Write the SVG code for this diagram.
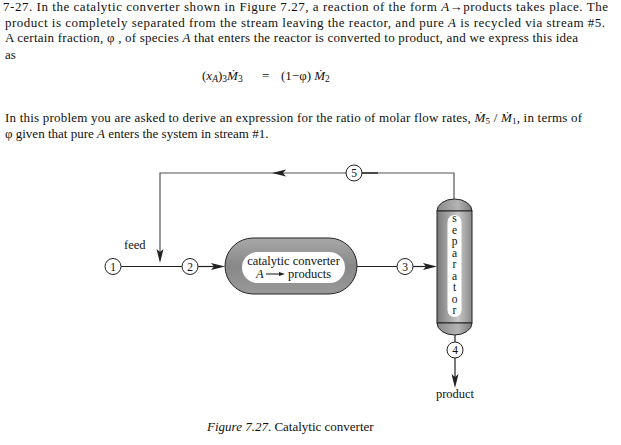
<svg xmlns="http://www.w3.org/2000/svg" width="621" height="445" viewBox="0 0 621 445">
<style>
text{font-family:"Liberation Serif","Times New Roman",serif;fill:#111;}
.p{font-size:13px;}
.i{font-style:italic;}
.ln{stroke:#222;stroke-width:1.2;fill:none;}
.lg{stroke:#555;stroke-width:1.2;fill:none;}
.c{fill:#fff;stroke:#222;stroke-width:1;}
.cn{font-size:11.5px;text-anchor:middle;}
.lbl{font-size:12.5px;}
.ah{fill:#222;}
.vert{writing-mode:vertical-rl;text-orientation:upright;font-size:11.5px;}
</style>
<defs>
<linearGradient id="gR" x1="0" y1="0" x2="0" y2="1">
<stop offset="0" stop-color="#a8a8a8"/><stop offset="0.5" stop-color="#888"/><stop offset="1" stop-color="#999"/>
</linearGradient>
<linearGradient id="gS" x1="0" y1="0" x2="1" y2="0">
<stop offset="0" stop-color="#7a7a7a"/><stop offset="0.6" stop-color="#c8c8c8"/><stop offset="1" stop-color="#8a8a8a"/>
</linearGradient>
<linearGradient id="gD" x1="0" y1="0" x2="1" y2="0">
<stop offset="0" stop-color="#8a8a8a"/><stop offset="0.6" stop-color="#b4b4b4"/><stop offset="1" stop-color="#7a7a7a"/>
</linearGradient>
</defs>

<g id="text">
<text class="p" x="3" y="11" textLength="605" lengthAdjust="spacing">7-27. In the catalytic converter shown in Figure 7.27, a reaction of the form <tspan class="i">A</tspan>→products takes place.  The</text>
<text class="p" x="5" y="27" textLength="600" lengthAdjust="spacing">product is completely separated from the stream leaving the reactor, and pure <tspan class="i">A</tspan> is recycled via stream #5.</text>
<text class="p" x="5" y="42" textLength="573" lengthAdjust="spacing">A certain fraction,  φ , of species <tspan class="i">A</tspan> that enters the reactor is converted to product, and we express this idea</text>
<text class="p" x="5" y="59">as</text>
<text class="p" x="202" y="80" font-size="13.5">(<tspan class="i">x</tspan><tspan class="i" font-size="9.5" dy="2">A</tspan><tspan dy="-2">)</tspan><tspan font-size="9.5" dy="2">3</tspan><tspan class="i" dy="-2">Ṁ</tspan><tspan font-size="9.5" dy="2">3</tspan></text>
<text class="p" x="262" y="80" font-size="13.5">=</text>
<text class="p" x="281" y="80" font-size="13.5">(1−φ) <tspan class="i">Ṁ</tspan><tspan font-size="9.5" dy="2">2</tspan></text>
<text class="p" x="5" y="122" textLength="577" lengthAdjust="spacing">In this problem you are asked to derive an expression for the ratio of molar flow rates,  <tspan class="i">Ṁ</tspan><tspan font-size="9" dy="2">5</tspan><tspan dy="-2"> / </tspan><tspan class="i">Ṁ</tspan><tspan font-size="9" dy="2">1</tspan><tspan dy="-2">, in terms of</tspan></text>
<text class="p" x="5" y="138">φ  given that pure <tspan class="i">A</tspan> enters the system in stream #1.</text>
<text class="p" x="207" y="431"><tspan class="i">Figure 7.27</tspan>. Catalytic converter</text>
</g>

<g id="connectors">
<polyline class="lg" points="454,200 454,173 160,173 160,258"/>
<line x1="362" y1="173" x2="378" y2="173" stroke="#222" stroke-width="1.4"/>
<path class="ah" d="M272,173 L286,169.5 L283,173 L286,176.5 Z"/>
<path class="ah" d="M160,263 L156.5,249 L160,252 L163.5,249 Z"/>
<line class="ln" x1="121" y1="266.5" x2="182" y2="266.5"/>
<line class="ln" x1="198" y1="266.5" x2="215" y2="266.5"/>
<path class="ah" d="M225,266.5 L211,263 L214,266.5 L211,270 Z"/>
<line class="ln" x1="357" y1="266.5" x2="397" y2="266.5"/>
<line class="ln" x1="413" y1="266.5" x2="428" y2="266.5"/>
<path class="ah" d="M437,266.5 L423,263 L426,266.5 L423,270 Z"/>
<line class="ln" x1="455" y1="334" x2="455" y2="342"/>
<line class="ln" x1="455" y1="358" x2="455" y2="378"/>
<path class="ah" d="M455,388 L451.5,374 L455,377 L458.5,374 Z"/>
</g>

<g id="s1"><circle class="c" cx="113" cy="266.5" r="8"/><text class="cn" x="113" y="270.5">1</text></g>
<g id="s2"><circle class="c" cx="190" cy="266.5" r="8"/><text class="cn" x="190" y="270.5">2</text></g>
<g id="s3"><circle class="c" cx="405" cy="266.5" r="8"/><text class="cn" x="405" y="270.5">3</text></g>
<g id="s4"><circle class="c" cx="455" cy="350" r="8"/><text class="cn" x="455" y="354">4</text></g>
<g id="s5"><circle class="c" cx="354" cy="173" r="8"/><text class="cn" x="354" y="177">5</text></g>

<g id="feed"><text class="lbl" x="124" y="249">feed</text></g>
<g id="product"><text class="lbl" x="455" y="398" text-anchor="middle">product</text></g>

<g id="reactor">
<rect x="225" y="238" width="132" height="56" rx="28" fill="url(#gR)" stroke="#222" stroke-width="1"/>
<rect x="242" y="252" width="103" height="31" rx="15.5" fill="#fff"/>
<text class="lbl" x="293.5" y="264.5" text-anchor="middle">catalytic converter</text>
<text class="lbl" x="256" y="278"><tspan class="i">A</tspan></text>
<line x1="266" y1="274" x2="282" y2="274" stroke="#111" stroke-width="1"/>
<path class="ah" d="M285,274 L279,272 L279,276 Z"/>
<text class="lbl" x="288" y="278">products</text>
</g>

<g id="separator">
<path d="M437,211 A17.5,12 0 0 1 472,211 Z" fill="url(#gD)" stroke="#222" stroke-width="1"/>
<rect x="437" y="211" width="35" height="112" fill="url(#gS)" stroke="#222" stroke-width="1"/>
<path d="M437,323 A17.5,12 0 0 0 472,323 Z" fill="url(#gD)" stroke="#222" stroke-width="1"/>
<rect x="447.5" y="215" width="14" height="102" rx="7" fill="#fff"/>
<text class="vert" x="454.5" y="212" letter-spacing="-0.5">separator</text>
</g>
</svg>
